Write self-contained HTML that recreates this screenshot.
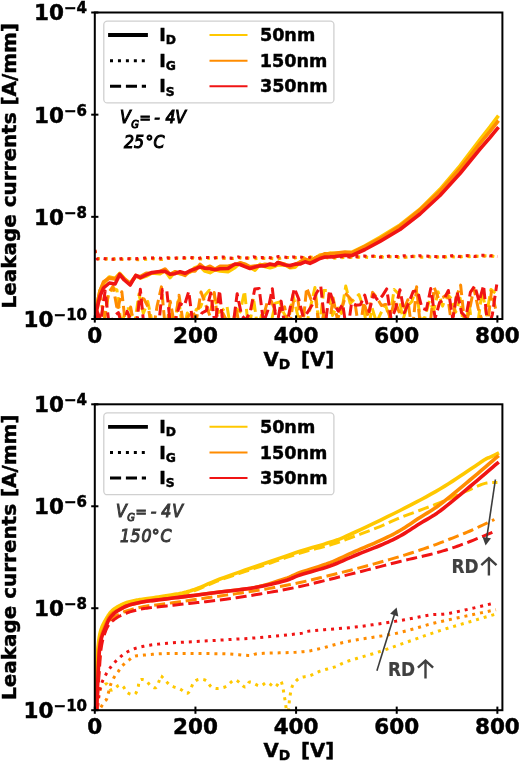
<!DOCTYPE html>
<html><head><meta charset="utf-8"><style>
*{margin:0;padding:0}
html,body{width:520px;height:761px;background:#fff;overflow:hidden}
svg{display:block}
text{font-family:'DejaVu Sans', 'Liberation Sans', sans-serif;font-weight:bold;fill:#000;stroke:#000;stroke-width:0.45px}
.tk{font-size:21.5px}
.sup{font-size:15.05px}
.lb{font-size:19.7px}
.yl{font-size:19.95px}
.sub{font-size:13.8px}
.lg{font-size:17.6px}
.lsub{font-size:12.3px}
.an{font-family:'DejaVu Sans Condensed', 'DejaVu Sans', sans-serif;font-style:italic;font-weight:normal;font-size:18px;stroke-width:1.0px}
.ansub{font-size:12px}
.rd{font-family:'DejaVu Sans Condensed', 'DejaVu Sans', sans-serif;font-size:18.8px;fill:#404040;stroke:#404040;stroke-width:0.2px}
</style></head><body>
<svg width="520" height="761" viewBox="0 0 520 761">
<defs><clipPath id="c0"><rect x="94.8" y="12.5" width="407.6" height="306.5"/></clipPath><clipPath id="c1"><rect x="94.8" y="404.3" width="407.6" height="305.9"/></clipPath></defs>
<path d="M94.95 330.42 L99.35 320.12 L103.75 322.05 L108.15 295.24 L112.55 288.09 L116.95 290 L121.35 325.92 L125.75 308.77 L130.15 308.78 L134.55 324.17 L138.95 294.12 L143.35 313.39 L147.75 301.5 L152.15 321.97 L156.55 322.54 L160.95 326.89 L165.35 332 L169.75 311.48 L174.15 328.3 L178.55 297.6 L182.95 332.2 L187.35 312.95 L191.75 332.57 L196.15 309.65 L200.55 306.97 L204.95 295.18 L209.35 290.19 L213.75 292.94 L218.15 312.59 L222.55 310.14 L226.95 305.97 L231.35 332.39 L235.75 308.17 L240.15 311.92 L244.55 291.04 L248.95 333 L253.35 297.43 L257.75 328.68 L262.15 312.92 L266.55 333.15 L270.95 323.47 L275.35 303.12 L279.75 301.87 L284.15 313.96 L288.55 320.17 L292.95 295.12 L297.35 313.71 L301.75 331.64 L306.15 326.18 L310.55 306.72 L314.95 287.42 L319.35 328.1 L323.75 290.52 L328.15 290.53 L332.55 315.41 L336.95 306.76 L341.35 313.5 L345.75 286.06 L350.15 303.36 L354.55 299.08 L358.95 294.52 L363.35 307.47 L367.75 331.21 L372.15 308.16 L376.55 322.6 L380.95 312.93 L385.35 304.56 L389.75 318.75 L394.15 289.46 L398.55 293.78 L402.95 319.76 L407.35 305.97 L411.75 301.72 L416.15 288.65 L420.55 321.05 L424.95 317.25 L429.35 300.88 L433.75 310.29 L438.15 291.87 L442.55 306.18 L446.95 293.97 L451.35 298.49 L455.75 312.12 L460.15 298.27 L464.55 335.24 L468.95 302.75 L473.35 335.42 L477.75 324.46 L482.15 290.13 L486.55 315.05 L490.95 289.5 L495.35 293.04" fill="none" stroke="#FFC800" stroke-width="3" stroke-linecap="butt" stroke-linejoin="round" stroke-dasharray="11.1 4.8" clip-path="url(#c0)"/>
<path d="M95.43 324.41 L99.83 291.13 L104.23 321.41 L108.63 292.61 L113.03 286.32 L117.43 310.41 L121.83 291.67 L126.23 331.44 L130.63 307.06 L135.03 331.36 L139.43 297.62 L143.83 298.83 L148.23 307.08 L152.63 334.47 L157.03 306.32 L161.43 286.87 L165.83 333.5 L170.23 301.24 L174.63 325.69 L179.03 295.34 L183.43 324.75 L187.83 316.9 L192.23 311.48 L196.63 318.58 L201.03 291.93 L205.43 304.22 L209.83 315.46 L214.23 292.56 L218.63 326.78 L223.03 313.35 L227.43 322.28 L231.83 330.73 L236.23 308.34 L240.63 333.17 L245.03 323.15 L249.43 314.25 L253.83 329.46 L258.23 327.36 L262.63 319.16 L267.03 303.15 L271.43 301.25 L275.83 312.59 L280.23 311.86 L284.63 306.92 L289.03 329.15 L293.43 301.2 L297.83 299.22 L302.23 332.08 L306.63 287.74 L311.03 299.5 L315.43 296.87 L319.83 333.44 L324.23 310.96 L328.63 330.09 L333.03 297.88 L337.43 319.38 L341.83 307.93 L346.23 294.01 L350.63 299.05 L355.03 302.96 L359.43 333.45 L363.83 302.17 L368.23 316.98 L372.63 292.36 L377.03 297.94 L381.43 305.53 L385.83 304.42 L390.23 318.31 L394.63 299.55 L399.03 311.91 L403.43 310.51 L407.83 299.76 L412.23 332.72 L416.63 286.8 L421.03 334.17 L425.43 325.43 L429.83 326.8 L434.23 287.56 L438.63 298.93 L443.03 297.29 L447.43 294.31 L451.83 326.23 L456.23 297.32 L460.63 285.14 L465.03 327.08 L469.43 310.65 L473.83 287.93 L478.23 308.34 L482.63 322.32 L487.03 330.91 L491.43 291.33 L495.83 309.72" fill="none" stroke="#FF8C00" stroke-width="3" stroke-linecap="butt" stroke-linejoin="round" stroke-dasharray="11.1 4.8" clip-path="url(#c0)"/>
<path d="M96.35 308.96 L100.75 320.42 L105.15 291.01 L109.55 328.36 L113.95 316.05 L118.35 312.55 L122.75 327.79 L127.15 311.35 L131.55 321.89 L135.95 332.45 L140.35 289.31 L144.75 334.84 L149.15 324.43 L153.55 333.4 L157.95 332.58 L162.35 289.58 L166.75 289.89 L171.15 332.62 L175.55 319.24 L179.95 303.65 L184.35 305.68 L188.75 291.35 L193.15 326.12 L197.55 325.66 L201.95 313.05 L206.35 310.62 L210.75 292.96 L215.15 325.32 L219.55 290.43 L223.95 334.36 L228.35 334.33 L232.75 328.32 L237.15 293.65 L241.55 315.18 L245.95 319.97 L250.35 311.35 L254.75 289.04 L259.15 288.5 L263.55 322.91 L267.95 309.96 L272.35 288.78 L276.75 326.69 L281.15 301.11 L285.55 331.83 L289.95 308.73 L294.35 288.23 L298.75 299.07 L303.15 316.93 L307.55 312.35 L311.95 305.3 L316.35 293.21 L320.75 286.15 L325.15 326.58 L329.55 290.36 L333.95 304.17 L338.35 311.29 L342.75 304.1 L347.15 335.09 L351.55 302.75 L355.95 305.18 L360.35 304.82 L364.75 295.05 L369.15 311.49 L373.55 294.56 L377.95 300.52 L382.35 295.86 L386.75 288.91 L391.15 319.8 L395.55 308.83 L399.95 289.67 L404.35 312.65 L408.75 302.94 L413.15 291.56 L417.55 290.66 L421.95 308.14 L426.35 309.83 L430.75 288.43 L435.15 318.28 L439.55 302.54 L443.95 299.48 L448.35 290.47 L452.75 318.81 L457.15 292.12 L461.55 312.61 L465.95 317 L470.35 292.45 L474.75 285.83 L479.15 301.46 L483.55 285.38 L487.95 328.81 L492.35 314.58 L496.75 284.49" fill="none" stroke="#F01414" stroke-width="3" stroke-linecap="butt" stroke-linejoin="round" stroke-dasharray="11.1 4.8" clip-path="url(#c0)"/>
<path d="M94.8 250.6 L97.3 258.79 L102.33 258.49 L107.36 259.16 L112.39 259.54 L117.42 259.02 L122.45 259.09 L127.48 258.29 L132.51 259.01 L137.54 259.7 L142.57 259.52 L147.6 259.29 L152.63 258.26 L157.66 259.48 L162.69 259.38 L167.72 258.23 L172.75 258.94 L177.78 257.93 L182.81 258.04 L187.84 258.32 L192.87 258.03 L197.9 258.96 L202.93 259.01 L207.96 258.22 L212.99 258.14 L218.02 257.77 L223.05 257.69 L228.08 258.66 L233.11 258.44 L238.14 257.53 L243.17 258.17 L248.2 258.01 L253.23 258.69 L258.26 258.44 L263.29 258.22 L268.32 258.1 L273.35 258.7 L278.38 258.72 L283.41 257.64 L288.44 257.45 L293.47 258.3 L298.5 257.09 L303.53 257.53 L308.56 257.03 L313.59 257.39 L318.62 256.95 L323.65 257.26 L328.68 258.03 L333.71 258.17 L338.74 257.96 L343.77 257.55 L348.8 257.6 L353.83 257.15 L358.86 256.81 L363.89 257.2 L368.92 257.63 L373.95 256.52 L378.98 256.42 L384.01 257.58 L389.04 256.79 L394.07 257.39 L399.1 257.41 L404.13 257.69 L409.16 256.8 L414.19 256.69 L419.22 257.37 L424.25 257.27 L429.28 257.05 L434.31 257.27 L439.34 256.96 L444.37 257.43 L449.4 256.39 L454.43 257 L459.46 257.3 L464.49 256.28 L469.52 256.68 L474.55 256.25 L479.58 256.37 L484.61 255.71 L489.64 255.59 L494.67 256.73 L497.4 256.22" fill="none" stroke="#FFC800" stroke-width="3" stroke-linecap="butt" stroke-linejoin="round" stroke-dasharray="3 4.95" clip-path="url(#c0)"/>
<path d="M94.8 250.3 L97.3 258.44 L102.33 259.34 L107.36 258.54 L112.39 258.94 L117.42 258.07 L122.45 259.48 L127.48 259.41 L132.51 257.99 L137.54 259.43 L142.57 258.08 L147.6 258.27 L152.63 258.75 L157.66 259.26 L162.69 259.07 L167.72 257.67 L172.75 258.47 L177.78 258.48 L182.81 258.33 L187.84 258.75 L192.87 257.74 L197.9 258.67 L202.93 257.44 L207.96 257.58 L212.99 257.52 L218.02 257.79 L223.05 258.33 L228.08 257.97 L233.11 258.49 L238.14 257.6 L243.17 258.28 L248.2 258.19 L253.23 257.55 L258.26 257.53 L263.29 258.52 L268.32 257.91 L273.35 258.4 L278.38 258.07 L283.41 258.12 L288.44 257.41 L293.47 257.45 L298.5 257.33 L303.53 258.24 L308.56 256.9 L313.59 258.12 L318.62 257.21 L323.65 257.18 L328.68 257.2 L333.71 257.02 L338.74 257.13 L343.77 256.41 L348.8 256.45 L353.83 257.45 L358.86 257.25 L363.89 256.24 L368.92 256.64 L373.95 256.48 L378.98 256.17 L384.01 256.88 L389.04 256.68 L394.07 256.05 L399.1 256.85 L404.13 257.18 L409.16 256.04 L414.19 256.26 L419.22 256.81 L424.25 256.53 L429.28 256.52 L434.31 256.41 L439.34 257.06 L444.37 256.56 L449.4 256.52 L454.43 256.23 L459.46 256.25 L464.49 256.87 L469.52 255.74 L474.55 256.88 L479.58 255.45 L484.61 256.25 L489.64 255.31 L494.67 256.28 L497.4 256.22" fill="none" stroke="#FF8C00" stroke-width="3" stroke-linecap="butt" stroke-linejoin="round" stroke-dasharray="3 4.95" clip-path="url(#c0)"/>
<path d="M94.8 250 L97.3 259.14 L102.33 258.24 L107.36 259.14 L112.39 259.33 L117.42 259.3 L122.45 258.43 L127.48 258.65 L132.51 258.87 L137.54 258.62 L142.57 258.71 L147.6 257.58 L152.63 257.96 L157.66 257.54 L162.69 258.78 L167.72 257.97 L172.75 258.42 L177.78 257.7 L182.81 257.81 L187.84 257.23 L192.87 257.75 L197.9 258.66 L202.93 257.45 L207.96 257.58 L212.99 258.5 L218.02 257.04 L223.05 257.06 L228.08 257.92 L233.11 258.28 L238.14 256.86 L243.17 258 L248.2 258.07 L253.23 256.85 L258.26 257.74 L263.29 257.47 L268.32 257.38 L273.35 258.11 L278.38 256.54 L283.41 256.9 L288.44 257.6 L293.47 256.95 L298.5 256.83 L303.53 257.46 L308.56 257.78 L313.59 256.67 L318.62 256.97 L323.65 256.6 L328.68 256.77 L333.71 257.09 L338.74 257.32 L343.77 256.16 L348.8 257.11 L353.83 256.85 L358.86 256.16 L363.89 256.06 L368.92 256.25 L373.95 256.07 L378.98 257.27 L384.01 256.84 L389.04 256.09 L394.07 256.58 L399.1 256.52 L404.13 255.71 L409.16 256.9 L414.19 256.17 L419.22 255.72 L424.25 255.75 L429.28 256.19 L434.31 256.51 L439.34 256.91 L444.37 256.69 L449.4 256.06 L454.43 255.39 L459.46 256.64 L464.49 255.73 L469.52 255.47 L474.55 256.46 L479.58 255.25 L484.61 255.37 L489.64 255.91 L494.67 255.82 L497.4 256.43" fill="none" stroke="#F01414" stroke-width="3" stroke-linecap="butt" stroke-linejoin="round" stroke-dasharray="3 4.95" clip-path="url(#c0)"/>
<path d="M95.2 327 L96.6 307 L100 290.83 L103.5 283.44 L109.3 277 L115.1 278.6 L119.7 273.38 L124.3 278.55 L130.1 284.12 L135.8 275.47 L140.4 278.08 L146.2 276.03 L152 273.02 L160 273.61 L165 270.46 L170 277.57 L175 271.86 L180 273.7 L185 273.78 L190 272.15 L195 267.7 L200 266.19 L205 271.11 L210 272.61 L215 269.64 L220 270.95 L228 271.76 L235 267.37 L240 263.01 L245 264.8 L250 267.52 L255 270.2 L260 264.3 L265 266.53 L270 267.74 L275 266.2 L278 264.65 L285 264.89 L290 267.64 L295 267.13 L300 262.11 L305 259.26 L310 261.29 L315 258.45 L320 255.1 L325 254.51 L330 253.16 L335 253.37 L345 252.73 L352 252.04 L365 245.91 L380 237.39 L400 224.92 L420 209.23 L440 189.3 L460 165.88 L480 139.55 L490 126.89 L497.4 117" fill="none" stroke="#FFC800" stroke-width="3.6" stroke-linecap="square" stroke-linejoin="round" clip-path="url(#c0)"/>
<path d="M95.2 327 L96.6 307 L100 290.87 L103.5 282.05 L109.3 278.1 L115.1 278.87 L119.7 274.02 L124.3 278.98 L130.1 283.23 L135.8 276.12 L140.4 276.5 L146.2 273.4 L152 273.23 L160 271.67 L165 269.04 L170 274.38 L175 271.81 L180 273.39 L185 275.4 L190 270.77 L195 270.94 L200 264.48 L205 268.33 L210 266.19 L215 269.33 L220 266.38 L228 266.26 L235 264.58 L240 262.86 L245 264.21 L250 266.82 L255 266.03 L260 265.52 L265 264.21 L270 264.83 L275 264.9 L278 262.53 L285 264.32 L290 267.29 L295 264.6 L300 261.97 L305 259.16 L310 261.25 L315 258 L320 256.2 L325 253.74 L330 253.96 L335 253.36 L345 252.06 L352 252.84 L365 246.42 L380 238.71 L400 226.09 L420 209.89 L440 191.17 L460 168.77 L480 143.33 L490 131.34 L497.4 122" fill="none" stroke="#FF8C00" stroke-width="3.6" stroke-linecap="square" stroke-linejoin="round" clip-path="url(#c0)"/>
<path d="M95.2 330 L96.6 310 L100 296 L103.5 288 L109.3 283 L115.1 284 L119.7 274.5 L124.3 280 L130.1 285 L135.8 275.4 L140.4 277.7 L146.2 274.8 L152 272.5 L160 271.5 L165 271.23 L170 274.3 L175 273.7 L180 271.68 L185 273.27 L190 270.8 L195 268.86 L200 267 L205 268.3 L210 268.8 L215 269.76 L220 268.8 L228 268.5 L235 264 L240 264.5 L245 266.57 L250 268.5 L255 266.94 L260 265.71 L265 266 L270 263.99 L275 265 L278 262.5 L285 265 L290 265.53 L295 264.12 L300 264 L305 261.77 L310 263.37 L315 261 L320 258.5 L325 257.02 L330 256.86 L335 256.5 L345 255.2 L352 255.5 L365 249.5 L380 241.4 L400 229.5 L420 214 L440 195.5 L460 173.5 L480 149 L490 137.5 L497.4 128.5" fill="none" stroke="#F01414" stroke-width="3.6" stroke-linecap="square" stroke-linejoin="round" clip-path="url(#c0)"/>
<path d="M96.5 714 L96.61 712.89 L96.76 711.39 L96.93 709.6 L97.12 707.62 L97.33 705.57 L97.55 703.55 L97.78 701.65 L98 700 L98.22 698.52 L98.44 697.08 L98.67 695.69 L98.91 694.38 L99.15 693.13 L99.42 691.98 L99.7 690.94 L100 690 L100.32 689.2 L100.66 688.53 L101.01 687.97 L101.38 687.5 L101.76 687.09 L102.16 686.72 L102.57 686.36 L103 686 L103.45 685.6 L103.93 685.17 L104.43 684.75 L104.94 684.38 L105.46 684.08 L105.98 683.89 L106.49 683.85 L107 684 L107.5 684.42 L108 685.12 L108.5 686.02 L109 687 L109.5 687.98 L110 688.88 L110.5 689.58 L111 690 L111.5 690.14 L111.98 690.09 L112.47 689.88 L112.96 689.57 L113.45 689.18 L113.95 688.76 L114.47 688.36 L115 688 L115.56 687.63 L116.15 687.19 L116.76 686.71 L117.38 686.22 L117.99 685.76 L118.59 685.36 L119.17 685.07 L119.7 684.9 L120.19 684.85 L120.64 684.88 L121.07 684.99 L121.47 685.17 L121.88 685.43 L122.3 685.75 L122.73 686.14 L123.2 686.6 L123.68 687.18 L124.16 687.92 L124.64 688.76 L125.13 689.65 L125.65 690.54 L126.22 691.38 L126.83 692.12 L127.5 692.7 L128.27 693.18 L129.14 693.62 L130.09 694 L131.06 694.31 L132.02 694.53 L132.94 694.63 L133.78 694.59 L134.5 694.4 L135.11 694.02 L135.64 693.47 L136.11 692.77 L136.53 691.96 L136.9 691.08 L137.25 690.15 L137.58 689.21 L137.9 688.3 L138.17 687.33 L138.36 686.22 L138.51 685.04 L138.64 683.85 L138.79 682.71 L138.99 681.68 L139.28 680.82 L139.7 680.2 L140.25 679.8 L140.92 679.56 L141.68 679.47 L142.49 679.5 L143.32 679.64 L144.16 679.86 L144.96 680.16 L145.7 680.5 L146.39 680.97 L147.06 681.6 L147.71 682.36 L148.35 683.17 L148.99 684 L149.62 684.78 L150.26 685.47 L150.9 686 L151.56 686.44 L152.24 686.87 L152.92 687.26 L153.61 687.58 L154.27 687.79 L154.92 687.87 L155.53 687.78 L156.1 687.5 L156.63 686.94 L157.14 686.11 L157.63 685.08 L158.09 683.92 L158.52 682.73 L158.91 681.58 L159.27 680.54 L159.6 679.7 L159.82 678.95 L159.92 678.19 L159.94 677.45 L159.96 676.8 L160.01 676.28 L160.16 675.94 L160.48 675.83 L161 676 L161.75 676.55 L162.69 677.47 L163.77 678.66 L164.96 680.02 L166.22 681.43 L167.5 682.8 L168.78 684.03 L170 685 L171.22 685.74 L172.48 686.35 L173.76 686.87 L175.06 687.31 L176.35 687.72 L177.62 688.12 L178.84 688.53 L180 689 L181.1 689.61 L182.16 690.38 L183.19 691.2 L184.19 692 L185.16 692.67 L186.12 693.12 L187.06 693.27 L188 693 L188.9 692.19 L189.75 690.87 L190.57 689.19 L191.38 687.31 L192.2 685.4 L193.06 683.6 L193.99 682.08 L195 681 L196.12 680.29 L197.34 679.77 L198.62 679.42 L199.94 679.25 L201.26 679.23 L202.57 679.36 L203.83 679.62 L205 680 L206.07 680.63 L207.05 681.58 L207.97 682.74 L208.88 684 L209.79 685.26 L210.77 686.42 L211.82 687.37 L213 688 L214.32 688.35 L215.77 688.52 L217.29 688.55 L218.88 688.44 L220.47 688.21 L222.05 687.88 L223.57 687.47 L225 687 L226.35 686.32 L227.64 685.34 L228.9 684.2 L230.12 683 L231.34 681.86 L232.55 680.91 L233.76 680.25 L235 680 L236.28 680.29 L237.62 681.05 L238.97 682.13 L240.31 683.38 L241.62 684.64 L242.85 685.77 L243.99 686.6 L245 687 L245.83 686.89 L246.48 686.38 L247.02 685.61 L247.5 684.69 L247.98 683.74 L248.52 682.9 L249.17 682.28 L250 682 L251.03 682.12 L252.22 682.54 L253.52 683.17 L254.88 683.91 L256.25 684.65 L257.59 685.32 L258.86 685.8 L260 686 L261.01 685.87 L261.94 685.46 L262.8 684.89 L263.62 684.22 L264.43 683.56 L265.25 682.99 L266.1 682.61 L267 682.5 L267.97 682.75 L268.98 683.3 L270.01 684.05 L271.06 684.88 L272.1 685.7 L273.12 686.4 L274.09 686.87 L275 687 L275.86 686.62 L276.69 685.74 L277.48 684.58 L278.25 683.32 L278.98 682.17 L279.69 681.34 L280.36 681.01 L281 681.4 L281.61 682.58 L282.18 684.41 L282.71 686.72 L283.22 689.35 L283.7 692.15 L284.15 694.97 L284.59 697.63 L285 700 L285.38 702.37 L285.73 705.03 L286.05 707.77 L286.34 710.41 L286.63 712.75 L286.91 714.59 L287.2 715.74 L287.5 716 L287.81 715.16 L288.11 713.33 L288.42 710.75 L288.72 707.7 L289.03 704.44 L289.34 701.23 L289.66 698.33 L290 696 L290.32 694.15 L290.62 692.48 L290.91 690.96 L291.22 689.58 L291.56 688.29 L291.96 687.08 L292.43 685.93 L293 684.8 L293.66 683.71 L294.4 682.69 L295.2 681.73 L296.06 680.84 L296.98 680.03 L297.95 679.28 L298.95 678.6 L300 678 L301.11 677.51 L302.29 677.16 L303.53 676.9 L304.81 676.71 L306.12 676.53 L307.43 676.32 L308.73 676.06 L310 675.7 L311.22 675.24 L312.38 674.73 L313.53 674.17 L314.69 673.58 L315.88 672.98 L317.15 672.37 L318.51 671.77 L320 671.2 L321.67 670.65 L323.52 670.1 L325.48 669.55 L327.5 669.01 L329.52 668.46 L331.48 667.91 L333.33 667.36 L335 666.8 L336.49 666.22 L337.85 665.63 L339.12 665.03 L340.31 664.43 L341.47 663.83 L342.62 663.26 L343.78 662.71 L345 662.2 L346.15 661.76 L347.15 661.4 L348.09 661.09 L349.06 660.78 L350.15 660.45 L351.45 660.07 L353.03 659.6 L355 659 L357.37 658.29 L360.08 657.5 L363.06 656.63 L366.25 655.71 L369.6 654.72 L373.05 653.69 L376.53 652.61 L380 651.5 L383.51 650.33 L387.15 649.08 L390.88 647.78 L394.69 646.43 L398.53 645.06 L402.38 643.69 L406.22 642.33 L410 641 L413.75 639.68 L417.5 638.36 L421.25 637.03 L425 635.7 L428.75 634.39 L432.5 633.09 L436.25 631.83 L440 630.6 L443.78 629.41 L447.59 628.24 L451.43 627.1 L455.25 625.98 L459.04 624.88 L462.78 623.81 L466.44 622.74 L470 621.7 L473.62 620.63 L477.39 619.51 L481.19 618.39 L484.88 617.29 L488.33 616.27 L491.42 615.36 L494.02 614.59 L496 614" fill="none" stroke="#FFC800" stroke-width="3" stroke-linecap="butt" stroke-linejoin="round" stroke-dasharray="3 4.95" clip-path="url(#c1)"/>
<path d="M96.5 714 L96.65 713.77 L96.86 713.46 L97.1 713.09 L97.38 712.69 L97.66 712.26 L97.95 711.82 L98.24 711.4 L98.5 711 L98.75 710.63 L99 710.25 L99.25 709.88 L99.51 709.51 L99.76 709.14 L100.01 708.76 L100.25 708.38 L100.5 708 L100.74 707.61 L100.98 707.22 L101.21 706.82 L101.44 706.42 L101.68 706.02 L101.91 705.61 L102.15 705.21 L102.4 704.8 L102.65 704.39 L102.91 703.96 L103.17 703.53 L103.43 703.11 L103.7 702.68 L103.96 702.27 L104.23 701.87 L104.5 701.5 L104.77 701.18 L105.05 700.91 L105.34 700.68 L105.62 700.44 L105.9 700.19 L106.18 699.88 L106.44 699.49 L106.7 699 L106.94 698.39 L107.17 697.7 L107.4 696.94 L107.61 696.12 L107.83 695.26 L108.05 694.38 L108.27 693.48 L108.5 692.6 L108.73 691.71 L108.95 690.78 L109.17 689.83 L109.39 688.87 L109.63 687.9 L109.89 686.92 L110.18 685.95 L110.5 685 L110.86 684.04 L111.26 683.07 L111.68 682.1 L112.12 681.12 L112.58 680.17 L113.05 679.24 L113.53 678.35 L114 677.5 L114.47 676.71 L114.96 675.98 L115.45 675.28 L115.95 674.61 L116.46 673.95 L116.97 673.29 L117.48 672.61 L118 671.9 L118.51 671.16 L119.01 670.39 L119.51 669.61 L120.02 668.82 L120.54 668.04 L121.09 667.27 L121.67 666.52 L122.3 665.8 L122.98 665.1 L123.72 664.41 L124.5 663.74 L125.29 663.07 L126.1 662.43 L126.9 661.8 L127.67 661.19 L128.4 660.6 L129.08 660.01 L129.72 659.42 L130.34 658.85 L130.95 658.29 L131.57 657.76 L132.2 657.28 L132.87 656.86 L133.6 656.5 L134.36 656.23 L135.14 656.03 L135.95 655.9 L136.78 655.81 L137.65 655.74 L138.55 655.68 L139.5 655.6 L140.5 655.5 L141.56 655.37 L142.68 655.24 L143.85 655.11 L145.06 654.98 L146.29 654.85 L147.53 654.73 L148.77 654.61 L150 654.5 L151.19 654.4 L152.35 654.29 L153.49 654.2 L154.66 654.11 L155.86 654.02 L157.14 653.94 L158.51 653.87 L160 653.8 L161.57 653.74 L163.16 653.69 L164.82 653.65 L166.56 653.61 L168.42 653.57 L170.43 653.54 L172.61 653.52 L175 653.5 L177.61 653.48 L180.43 653.47 L183.42 653.46 L186.56 653.45 L189.82 653.45 L193.16 653.46 L196.57 653.47 L200 653.5 L203.58 653.53 L207.38 653.57 L211.32 653.61 L215.31 653.66 L219.26 653.72 L223.09 653.79 L226.69 653.89 L230 654 L233.05 654.16 L235.94 654.39 L238.67 654.64 L241.25 654.91 L243.67 655.15 L245.94 655.35 L248.05 655.47 L250 655.5 L251.52 655.41 L252.5 655.23 L253.16 654.98 L253.75 654.69 L254.49 654.37 L255.62 654.05 L257.38 653.75 L260 653.5 L263.7 653.3 L268.36 653.13 L273.68 652.98 L279.38 652.84 L285.15 652.68 L290.7 652.5 L295.75 652.28 L300 652 L303.39 651.69 L306.17 651.38 L308.53 651.05 L310.62 650.68 L312.65 650.27 L314.77 649.79 L317.16 649.24 L320 648.6 L323.17 647.85 L326.45 646.99 L329.86 646.05 L333.44 645.05 L337.21 644.02 L341.21 642.98 L345.46 641.97 L350 641 L354.98 640.08 L360.43 639.18 L366.22 638.3 L372.19 637.41 L378.2 636.51 L384.1 635.59 L389.75 634.62 L395 633.6 L399.96 632.49 L404.8 631.28 L409.52 630.01 L414.06 628.73 L418.41 627.47 L422.54 626.27 L426.41 625.16 L430 624.2 L433.04 623.42 L435.45 622.81 L437.46 622.32 L439.31 621.88 L441.25 621.43 L443.52 620.92 L446.36 620.3 L450 619.5 L454.82 618.45 L460.75 617.18 L467.37 615.77 L474.25 614.31 L480.98 612.88 L487.12 611.58 L492.27 610.49 L496 609.7" fill="none" stroke="#FF8C00" stroke-width="3" stroke-linecap="butt" stroke-linejoin="round" stroke-dasharray="3 4.95" clip-path="url(#c1)"/>
<path d="M97 714 L97.09 713.06 L97.21 711.8 L97.36 710.29 L97.52 708.62 L97.69 706.88 L97.86 705.14 L98.04 703.49 L98.2 702 L98.35 700.64 L98.5 699.31 L98.65 698.02 L98.8 696.75 L98.96 695.52 L99.12 694.31 L99.3 693.14 L99.5 692 L99.71 690.89 L99.94 689.81 L100.18 688.77 L100.42 687.75 L100.68 686.77 L100.95 685.81 L101.22 684.89 L101.5 684 L101.78 683.16 L102.05 682.38 L102.33 681.65 L102.62 680.94 L102.93 680.24 L103.26 679.52 L103.61 678.78 L104 678 L104.43 677.16 L104.89 676.29 L105.39 675.38 L105.91 674.47 L106.43 673.56 L106.96 672.67 L107.49 671.81 L108 671 L108.5 670.23 L109 669.5 L109.5 668.78 L110 668.09 L110.5 667.42 L111 666.77 L111.5 666.13 L112 665.5 L112.49 664.9 L112.95 664.33 L113.41 663.78 L113.88 663.25 L114.35 662.72 L114.86 662.17 L115.4 661.6 L116 661 L116.65 660.35 L117.36 659.66 L118.1 658.94 L118.88 658.22 L119.66 657.5 L120.45 656.79 L121.24 656.12 L122 655.5 L122.74 654.92 L123.48 654.37 L124.21 653.85 L124.94 653.34 L125.68 652.86 L126.43 652.39 L127.2 651.94 L128 651.5 L128.81 651.07 L129.61 650.67 L130.42 650.28 L131.25 649.91 L132.11 649.54 L133.02 649.19 L133.97 648.84 L135 648.5 L136.11 648.16 L137.29 647.82 L138.53 647.48 L139.81 647.16 L141.12 646.84 L142.43 646.54 L143.73 646.26 L145 646 L146.22 645.76 L147.38 645.55 L148.53 645.36 L149.69 645.19 L150.88 645.02 L152.15 644.85 L153.51 644.68 L155 644.5 L156.53 644.31 L158.05 644.13 L159.6 643.95 L161.25 643.76 L163.06 643.58 L165.08 643.39 L167.37 643.2 L170 643 L173.03 642.8 L176.45 642.59 L180.15 642.38 L184.06 642.17 L188.09 641.95 L192.15 641.74 L196.15 641.52 L200 641.3 L203.75 641.08 L207.5 640.86 L211.25 640.64 L215 640.42 L218.75 640.19 L222.5 639.97 L226.25 639.74 L230 639.5 L233.68 639.27 L237.27 639.06 L240.81 638.85 L244.38 638.64 L248.02 638.41 L251.8 638.15 L255.77 637.85 L260 637.5 L264.73 637.09 L270 636.61 L275.59 636.08 L281.25 635.53 L286.76 634.98 L291.88 634.44 L296.37 633.94 L300 633.5 L302.45 633.13 L303.79 632.8 L304.41 632.51 L304.69 632.24 L305 631.97 L305.74 631.69 L307.28 631.37 L310 631 L313.95 630.6 L318.79 630.18 L324.31 629.75 L330.31 629.3 L336.59 628.81 L342.93 628.29 L349.14 627.72 L355 627.1 L360.73 626.41 L366.6 625.64 L372.53 624.81 L378.44 623.96 L384.22 623.09 L389.8 622.22 L395.09 621.39 L400 620.6 L404.54 619.83 L408.79 619.05 L412.79 618.27 L416.56 617.51 L420.14 616.78 L423.55 616.11 L426.83 615.51 L430 615 L432.81 614.65 L435.14 614.48 L437.18 614.41 L439.12 614.38 L441.18 614.31 L443.55 614.14 L446.42 613.79 L450 613.2 L454.65 612.27 L460.34 611.04 L466.68 609.61 L473.25 608.09 L479.67 606.58 L485.53 605.19 L490.44 604.03 L494 603.2" fill="none" stroke="#F01414" stroke-width="3" stroke-linecap="butt" stroke-linejoin="round" stroke-dasharray="3 4.95" clip-path="url(#c1)"/>
<path d="M95.5 714 L95.54 712.16 L95.6 709.71 L95.67 706.8 L95.74 703.56 L95.83 700.13 L95.91 696.63 L96.01 693.21 L96.1 690 L96.2 686.87 L96.3 683.63 L96.4 680.35 L96.51 677.06 L96.63 673.83 L96.75 670.71 L96.87 667.75 L97 665 L97.13 662.45 L97.27 660.05 L97.41 657.78 L97.56 655.62 L97.71 653.58 L97.87 651.64 L98.03 649.78 L98.2 648 L98.37 646.32 L98.53 644.78 L98.7 643.35 L98.87 642 L99.05 640.71 L99.25 639.47 L99.46 638.24 L99.7 637 L99.96 635.77 L100.22 634.57 L100.5 633.41 L100.8 632.28 L101.12 631.18 L101.45 630.1 L101.81 629.04 L102.2 628 L102.62 626.98 L103.07 626 L103.55 625.03 L104.05 624.09 L104.56 623.17 L105.08 622.27 L105.59 621.38 L106.1 620.5 L106.6 619.62 L107.1 618.75 L107.61 617.88 L108.11 617.03 L108.62 616.21 L109.14 615.43 L109.67 614.69 L110.2 614 L110.74 613.38 L111.27 612.81 L111.81 612.29 L112.36 611.81 L112.92 611.35 L113.5 610.91 L114.09 610.46 L114.7 610 L115.33 609.54 L115.98 609.08 L116.64 608.63 L117.31 608.19 L118.01 607.75 L118.72 607.33 L119.45 606.91 L120.2 606.5 L120.97 606.09 L121.75 605.69 L122.55 605.29 L123.38 604.91 L124.22 604.53 L125.08 604.17 L125.98 603.82 L126.9 603.5 L127.86 603.2 L128.85 602.92 L129.86 602.65 L130.91 602.41 L131.97 602.17 L133.04 601.94 L134.12 601.72 L135.2 601.5 L136.23 601.3 L137.21 601.11 L138.16 600.94 L139.14 600.78 L140.19 600.61 L141.35 600.43 L142.67 600.23 L144.2 600 L145.89 599.76 L147.67 599.52 L149.58 599.27 L151.62 599 L153.81 598.7 L156.18 598.36 L158.74 597.96 L161.5 597.5 L164.53 597 L167.84 596.49 L171.37 595.94 L175.06 595.34 L178.84 594.67 L182.67 593.9 L186.47 593.02 L190.2 592 L193.82 590.82 L197.37 589.49 L200.92 588.04 L204.49 586.5 L208.16 584.9 L211.97 583.26 L215.96 581.62 L220.2 580 L224.72 578.38 L229.5 576.73 L234.47 575.05 L239.57 573.34 L244.76 571.63 L249.97 569.91 L255.13 568.2 L260.2 566.5 L265.27 564.77 L270.44 563 L275.65 561.2 L280.84 559.41 L285.95 557.66 L290.92 555.99 L295.69 554.42 L300.2 553 L304.48 551.73 L308.6 550.59 L312.55 549.55 L316.35 548.59 L319.99 547.69 L323.48 546.8 L326.81 545.91 L330 545 L332.9 544.11 L335.45 543.28 L337.78 542.5 L339.99 541.71 L342.2 540.9 L344.53 540.04 L347.09 539.08 L350 538 L353.34 536.77 L357.03 535.4 L360.96 533.93 L365 532.41 L369.04 530.88 L372.97 529.37 L376.66 527.93 L380 526.6 L382.84 525.42 L385.23 524.37 L387.35 523.39 L389.38 522.44 L391.47 521.45 L393.83 520.39 L396.61 519.19 L400 517.8 L404.11 516.19 L408.83 514.4 L413.97 512.48 L419.38 510.47 L424.85 508.43 L430.23 506.4 L435.34 504.44 L440 502.6 L444.33 500.81 L448.55 499.01 L452.64 497.23 L456.56 495.48 L460.29 493.81 L463.79 492.23 L467.04 490.79 L470 489.5 L472.61 488.37 L474.87 487.36 L476.84 486.48 L478.6 485.69 L480.22 485.01 L481.78 484.4 L483.35 483.87 L485 483.4 L486.76 483.02 L488.57 482.77 L490.39 482.61 L492.14 482.52 L493.77 482.48 L495.23 482.46 L496.46 482.44 L497.4 482.4" fill="none" stroke="#FFC800" stroke-width="3" stroke-linecap="butt" stroke-linejoin="round" stroke-dasharray="11.1 4.8" clip-path="url(#c1)"/>
<path d="M96.6 714 L96.68 712.13 L96.79 709.64 L96.92 706.67 L97.06 703.38 L97.22 699.91 L97.38 696.42 L97.54 693.07 L97.7 690 L97.86 687.12 L98.03 684.24 L98.21 681.38 L98.39 678.56 L98.58 675.8 L98.76 673.1 L98.93 670.5 L99.1 668 L99.26 665.6 L99.4 663.28 L99.54 661.04 L99.68 658.88 L99.82 656.79 L99.97 654.78 L100.13 652.85 L100.3 651 L100.48 649.25 L100.65 647.62 L100.82 646.09 L101.01 644.62 L101.21 643.21 L101.44 641.81 L101.7 640.42 L102 639 L102.35 637.54 L102.76 636.06 L103.19 634.58 L103.66 633.12 L104.13 631.71 L104.6 630.38 L105.06 629.13 L105.5 628 L105.91 627 L106.3 626.09 L106.69 625.28 L107.08 624.54 L107.46 623.86 L107.86 623.22 L108.27 622.61 L108.7 622 L109.14 621.43 L109.59 620.91 L110.05 620.44 L110.51 619.99 L111 619.57 L111.5 619.16 L112.04 618.74 L112.6 618.3 L113.18 617.85 L113.77 617.42 L114.38 616.99 L115.01 616.56 L115.68 616.13 L116.4 615.69 L117.17 615.25 L118 614.8 L118.85 614.34 L119.7 613.89 L120.56 613.43 L121.49 612.96 L122.52 612.49 L123.67 612.01 L124.99 611.51 L126.5 611 L128.27 610.45 L130.28 609.87 L132.47 609.25 L134.78 608.64 L137.15 608.04 L139.52 607.47 L141.82 606.95 L144 606.5 L145.77 606.17 L147.07 605.98 L148.18 605.85 L149.34 605.75 L150.84 605.62 L152.94 605.4 L155.9 605.04 L160 604.5 L165.53 603.73 L172.38 602.77 L180.16 601.68 L188.5 600.5 L197.03 599.29 L205.38 598.1 L213.16 596.99 L220 596 L225.96 595.14 L231.41 594.36 L236.46 593.63 L241.25 592.94 L245.88 592.25 L250.47 591.55 L255.14 590.8 L260 590 L264.9 589.18 L269.65 588.37 L274.34 587.56 L279.06 586.72 L283.9 585.82 L288.95 584.83 L294.28 583.73 L300 582.5 L306.23 581.09 L312.93 579.52 L319.97 577.83 L327.19 576.06 L334.45 574.25 L341.6 572.45 L348.5 570.68 L355 569 L361.21 567.37 L367.3 565.74 L373.27 564.12 L379.06 562.52 L384.66 560.95 L390.04 559.42 L395.16 557.93 L400 556.5 L404.54 555.12 L408.79 553.79 L412.79 552.5 L416.56 551.24 L420.14 550.03 L423.55 548.85 L426.83 547.71 L430 546.6 L432.98 545.54 L435.7 544.55 L438.23 543.6 L440.62 542.68 L442.94 541.78 L445.23 540.87 L447.57 539.95 L450 539 L452.47 538.04 L454.9 537.11 L457.31 536.18 L459.72 535.24 L462.18 534.27 L464.69 533.26 L467.29 532.17 L470 531 L473.01 529.65 L476.36 528.1 L479.9 526.44 L483.45 524.75 L486.84 523.12 L489.91 521.65 L492.49 520.41 L494.4 519.5" fill="none" stroke="#FF8C00" stroke-width="3" stroke-linecap="butt" stroke-linejoin="round" stroke-dasharray="11.1 4.8" clip-path="url(#c1)"/>
<path d="M96.8 714 L96.89 712.13 L97.01 709.64 L97.15 706.67 L97.31 703.38 L97.48 699.91 L97.65 696.42 L97.83 693.07 L98 690 L98.18 687.11 L98.36 684.22 L98.55 681.34 L98.75 678.5 L98.95 675.72 L99.14 673.03 L99.32 670.45 L99.5 668 L99.66 665.68 L99.81 663.46 L99.95 661.34 L100.08 659.31 L100.22 657.37 L100.36 655.51 L100.52 653.72 L100.7 652 L100.89 650.38 L101.07 648.89 L101.26 647.5 L101.46 646.17 L101.68 644.88 L101.92 643.61 L102.19 642.33 L102.5 641 L102.85 639.61 L103.24 638.19 L103.67 636.75 L104.12 635.33 L104.58 633.94 L105.03 632.62 L105.48 631.4 L105.9 630.3 L106.3 629.33 L106.68 628.46 L107.05 627.68 L107.43 626.97 L107.8 626.31 L108.18 625.69 L108.58 625.1 L109 624.5 L109.43 623.93 L109.87 623.41 L110.31 622.92 L110.77 622.47 L111.24 622.03 L111.74 621.6 L112.25 621.16 L112.8 620.7 L113.36 620.23 L113.92 619.78 L114.49 619.32 L115.09 618.86 L115.73 618.41 L116.42 617.94 L117.17 617.48 L118 617 L118.92 616.5 L119.94 615.99 L121.02 615.46 L122.16 614.92 L123.31 614.4 L124.47 613.9 L125.61 613.43 L126.7 613 L127.75 612.61 L128.79 612.26 L129.81 611.93 L130.83 611.62 L131.85 611.33 L132.89 611.05 L133.93 610.77 L135 610.5 L136.03 610.24 L137.01 609.99 L137.96 609.75 L138.94 609.53 L139.99 609.3 L141.15 609.08 L142.47 608.84 L144 608.6 L145.48 608.38 L146.77 608.19 L148.06 608.02 L149.54 607.84 L151.42 607.62 L153.87 607.34 L157.1 606.97 L161.3 606.5 L166.78 605.89 L173.5 605.17 L181.1 604.36 L189.23 603.49 L197.54 602.59 L205.67 601.69 L213.27 600.82 L220 600 L225.89 599.24 L231.31 598.5 L236.37 597.78 L241.17 597.06 L245.82 596.34 L250.44 595.59 L255.13 594.82 L260 594 L264.9 593.18 L269.65 592.37 L274.34 591.56 L279.06 590.72 L283.9 589.82 L288.95 588.83 L294.28 587.73 L300 586.5 L306.23 585.09 L312.93 583.5 L319.97 581.79 L327.19 580 L334.45 578.18 L341.6 576.38 L348.5 574.63 L355 573 L361.21 571.44 L367.3 569.88 L373.27 568.34 L379.06 566.84 L384.66 565.4 L390.04 564.01 L395.16 562.71 L400 561.5 L404.54 560.4 L408.79 559.41 L412.79 558.49 L416.56 557.64 L420.14 556.84 L423.55 556.06 L426.83 555.29 L430 554.5 L432.98 553.73 L435.7 553 L438.23 552.3 L440.62 551.61 L442.94 550.92 L445.23 550.22 L447.57 549.48 L450 548.7 L452.47 547.89 L454.9 547.06 L457.31 546.22 L459.72 545.36 L462.18 544.46 L464.69 543.52 L467.29 542.54 L470 541.5 L473.01 540.32 L476.36 538.98 L479.9 537.55 L483.45 536.1 L486.84 534.71 L489.91 533.44 L492.49 532.38 L494.4 531.6" fill="none" stroke="#F01414" stroke-width="3" stroke-linecap="butt" stroke-linejoin="round" stroke-dasharray="11.1 4.8" clip-path="url(#c1)"/>
<path d="M95.3 714 L95.34 712.16 L95.4 709.71 L95.47 706.8 L95.54 703.56 L95.63 700.13 L95.71 696.63 L95.81 693.21 L95.9 690 L96 686.87 L96.1 683.63 L96.2 680.35 L96.31 677.06 L96.43 673.83 L96.55 670.71 L96.67 667.75 L96.8 665 L96.93 662.46 L97.07 660.07 L97.21 657.82 L97.36 655.69 L97.51 653.66 L97.67 651.71 L97.83 649.83 L98 648 L98.17 646.24 L98.33 644.58 L98.5 643 L98.67 641.5 L98.85 640.06 L99.05 638.67 L99.26 637.32 L99.5 636 L99.76 634.72 L100.02 633.5 L100.3 632.34 L100.6 631.22 L100.92 630.13 L101.25 629.07 L101.61 628.03 L102 627 L102.42 625.98 L102.87 625 L103.35 624.03 L103.85 623.09 L104.36 622.17 L104.88 621.27 L105.39 620.38 L105.9 619.5 L106.4 618.62 L106.9 617.75 L107.41 616.89 L107.91 616.04 L108.42 615.23 L108.94 614.44 L109.47 613.7 L110 613 L110.54 612.36 L111.07 611.77 L111.61 611.22 L112.16 610.7 L112.72 610.21 L113.3 609.73 L113.89 609.27 L114.5 608.8 L115.13 608.34 L115.78 607.9 L116.44 607.48 L117.11 607.07 L117.81 606.68 L118.52 606.28 L119.25 605.89 L120 605.5 L120.77 605.1 L121.55 604.71 L122.35 604.31 L123.18 603.92 L124.02 603.54 L124.88 603.17 L125.78 602.83 L126.7 602.5 L127.66 602.2 L128.65 601.92 L129.66 601.65 L130.71 601.41 L131.77 601.17 L132.84 600.94 L133.92 600.72 L135 600.5 L136.03 600.3 L137.01 600.11 L137.96 599.94 L138.94 599.78 L139.99 599.61 L141.15 599.43 L142.47 599.23 L144 599 L145.69 598.76 L147.47 598.52 L149.38 598.27 L151.42 598 L153.61 597.7 L155.98 597.36 L158.54 596.96 L161.3 596.5 L164.33 596 L167.64 595.49 L171.17 594.94 L174.86 594.34 L178.64 593.67 L182.47 592.9 L186.27 592.02 L190 591 L193.62 589.82 L197.17 588.5 L200.72 587.06 L204.29 585.53 L207.96 583.93 L211.77 582.29 L215.76 580.64 L220 579 L224.52 577.34 L229.3 575.63 L234.27 573.88 L239.38 572.11 L244.56 570.32 L249.77 568.53 L254.93 566.75 L260 565 L265.07 563.24 L270.23 561.44 L275.44 559.63 L280.62 557.84 L285.73 556.08 L290.7 554.39 L295.48 552.79 L300 551.3 L304.3 549.94 L308.44 548.69 L312.42 547.53 L316.25 546.43 L319.92 545.38 L323.44 544.36 L326.8 543.34 L330 542.3 L332.77 541.38 L335 540.65 L336.91 540 L338.75 539.34 L340.74 538.56 L343.12 537.56 L346.13 536.24 L350 534.5 L354.88 532.26 L360.62 529.58 L366.99 526.58 L373.75 523.36 L380.66 520.03 L387.5 516.7 L394.02 513.49 L400 510.5 L405.55 507.68 L410.94 504.9 L416.17 502.17 L421.25 499.47 L426.17 496.81 L430.94 494.18 L435.55 491.57 L440 489 L444.33 486.4 L448.55 483.76 L452.64 481.12 L456.56 478.53 L460.29 476.03 L463.79 473.66 L467.04 471.47 L470 469.5 L472.66 467.74 L475.04 466.15 L477.16 464.72 L479.06 463.43 L480.77 462.27 L482.3 461.24 L483.71 460.32 L485 459.5 L486.09 458.85 L486.9 458.41 L487.5 458.13 L487.97 457.95 L488.39 457.82 L488.82 457.69 L489.33 457.5 L490 457.2 L490.86 456.79 L491.85 456.31 L492.92 455.79 L494.01 455.26 L495.06 454.74 L496.01 454.28 L496.81 453.89 L497.4 453.6" fill="none" stroke="#FFC800" stroke-width="3.6" stroke-linecap="square" stroke-linejoin="round" clip-path="url(#c1)"/>
<path d="M96.3 712.5 L96.36 710.63 L96.44 708.14 L96.53 705.17 L96.64 701.88 L96.75 698.41 L96.87 694.92 L96.98 691.57 L97.1 688.5 L97.21 685.63 L97.33 682.77 L97.46 679.93 L97.58 677.12 L97.71 674.37 L97.84 671.67 L97.97 669.04 L98.1 666.5 L98.23 664.02 L98.35 661.58 L98.47 659.19 L98.59 656.88 L98.72 654.63 L98.86 652.48 L99.02 650.44 L99.2 648.5 L99.39 646.71 L99.58 645.07 L99.78 643.54 L99.99 642.09 L100.23 640.7 L100.51 639.32 L100.83 637.94 L101.2 636.5 L101.64 635.01 L102.16 633.48 L102.73 631.95 L103.33 630.44 L103.94 628.96 L104.54 627.55 L105.1 626.22 L105.6 625 L106.04 623.89 L106.45 622.88 L106.83 621.95 L107.19 621.08 L107.54 620.27 L107.91 619.49 L108.29 618.74 L108.7 618 L109.13 617.28 L109.56 616.6 L110 615.95 L110.45 615.33 L110.92 614.75 L111.41 614.2 L111.94 613.68 L112.5 613.2 L113.08 612.77 L113.68 612.42 L114.3 612.11 L114.94 611.83 L115.63 611.55 L116.36 611.25 L117.15 610.91 L118 610.5 L118.94 610.01 L119.95 609.45 L121.03 608.86 L122.16 608.24 L123.3 607.62 L124.46 607.03 L125.6 606.48 L126.7 606 L127.77 605.59 L128.83 605.22 L129.88 604.89 L130.94 604.59 L132 604.31 L133.08 604.04 L134.17 603.77 L135.3 603.5 L136.41 603.23 L137.49 602.96 L138.57 602.71 L139.67 602.47 L140.83 602.23 L142.09 601.99 L143.46 601.75 L145 601.5 L146.64 601.26 L148.32 601.04 L150.08 600.82 L151.96 600.6 L153.99 600.37 L156.2 600.11 L158.62 599.83 L161.3 599.5 L164.29 599.13 L167.57 598.72 L171.1 598.28 L174.79 597.82 L178.6 597.34 L182.44 596.86 L186.27 596.38 L190 595.9 L193.65 595.43 L197.29 594.96 L200.94 594.49 L204.61 594.01 L208.33 593.52 L212.12 593.02 L216 592.52 L220 592 L224.17 591.5 L228.52 591.02 L232.98 590.55 L237.5 590.06 L242.02 589.53 L246.48 588.94 L250.83 588.27 L255 587.5 L259.09 586.59 L263.2 585.54 L267.28 584.4 L271.25 583.2 L275.07 581.99 L278.67 580.81 L282 579.7 L285 578.7 L287.49 577.83 L289.45 577.06 L291.06 576.36 L292.5 575.69 L293.94 575.01 L295.55 574.29 L297.51 573.48 L300 572.55 L303.07 571.5 L306.56 570.37 L310.37 569.17 L314.38 567.92 L318.46 566.63 L322.5 565.31 L326.39 563.98 L330 562.65 L333.36 561.3 L336.6 559.92 L339.74 558.51 L342.81 557.08 L345.84 555.64 L348.87 554.21 L351.91 552.79 L355 551.4 L358.16 550.03 L361.37 548.66 L364.59 547.3 L367.81 545.95 L370.99 544.61 L374.1 543.28 L377.11 541.96 L380 540.65 L382.74 539.38 L385.35 538.15 L387.87 536.95 L390.31 535.75 L392.72 534.53 L395.12 533.27 L397.53 531.95 L400 530.55 L402.5 529.06 L405 527.48 L407.5 525.85 L410 524.18 L412.5 522.48 L415 520.78 L417.5 519.1 L420 517.45 L422.43 515.9 L424.77 514.47 L427.06 513.09 L429.38 511.69 L431.77 510.2 L434.3 508.55 L437.02 506.67 L440 504.5 L443.29 501.98 L446.86 499.16 L450.63 496.11 L454.54 492.9 L458.5 489.61 L462.45 486.31 L466.31 483.08 L470 480 L473.74 476.87 L477.68 473.54 L481.67 470.15 L485.57 466.82 L489.25 463.68 L492.54 460.86 L495.3 458.49 L497.4 456.7" fill="none" stroke="#FF8C00" stroke-width="3.6" stroke-linecap="square" stroke-linejoin="round" clip-path="url(#c1)"/>
<path d="M96.6 714 L96.66 712.13 L96.74 709.64 L96.83 706.67 L96.94 703.38 L97.05 699.91 L97.17 696.42 L97.28 693.07 L97.4 690 L97.51 687.13 L97.63 684.27 L97.76 681.43 L97.88 678.62 L98.01 675.87 L98.14 673.17 L98.27 670.54 L98.4 668 L98.53 665.52 L98.65 663.08 L98.77 660.69 L98.89 658.38 L99.02 656.13 L99.16 653.98 L99.32 651.94 L99.5 650 L99.69 648.21 L99.88 646.57 L100.08 645.04 L100.29 643.59 L100.53 642.2 L100.81 640.82 L101.13 639.44 L101.5 638 L101.94 636.51 L102.46 634.98 L103.03 633.45 L103.63 631.94 L104.24 630.46 L104.84 629.05 L105.4 627.72 L105.9 626.5 L106.34 625.39 L106.75 624.38 L107.13 623.45 L107.49 622.58 L107.84 621.77 L108.21 620.99 L108.59 620.24 L109 619.5 L109.43 618.79 L109.87 618.13 L110.31 617.51 L110.77 616.92 L111.24 616.36 L111.74 615.81 L112.25 615.26 L112.8 614.7 L113.36 614.15 L113.92 613.61 L114.49 613.09 L115.09 612.58 L115.73 612.07 L116.42 611.56 L117.17 611.04 L118 610.5 L118.92 609.94 L119.93 609.35 L121.01 608.75 L122.14 608.14 L123.29 607.55 L124.45 606.99 L125.59 606.47 L126.7 606 L127.77 605.59 L128.83 605.22 L129.88 604.89 L130.94 604.59 L132 604.31 L133.08 604.04 L134.17 603.77 L135.3 603.5 L136.41 603.23 L137.49 602.96 L138.57 602.71 L139.67 602.47 L140.83 602.23 L142.09 601.99 L143.46 601.75 L145 601.5 L146.64 601.26 L148.32 601.04 L150.08 600.82 L151.96 600.6 L153.99 600.37 L156.2 600.11 L158.62 599.83 L161.3 599.5 L164.29 599.13 L167.57 598.72 L171.1 598.28 L174.79 597.82 L178.6 597.34 L182.44 596.86 L186.27 596.38 L190 595.9 L193.65 595.43 L197.29 594.96 L200.94 594.49 L204.61 594.01 L208.33 593.52 L212.12 593.02 L216 592.52 L220 592 L224.17 591.48 L228.52 590.97 L232.98 590.46 L237.5 589.93 L242.02 589.38 L246.48 588.8 L250.83 588.18 L255 587.5 L259.09 586.75 L263.2 585.94 L267.28 585.07 L271.25 584.17 L275.07 583.27 L278.67 582.38 L282 581.51 L285 580.7 L287.49 579.96 L289.45 579.28 L291.06 578.63 L292.5 577.99 L293.94 577.33 L295.55 576.63 L297.51 575.86 L300 575 L303.07 574.04 L306.56 573.02 L310.37 571.93 L314.38 570.8 L318.46 569.63 L322.5 568.43 L326.39 567.22 L330 566 L333.36 564.76 L336.6 563.47 L339.74 562.15 L342.81 560.81 L345.84 559.47 L348.87 558.12 L351.91 556.8 L355 555.5 L358.16 554.22 L361.37 552.95 L364.59 551.69 L367.81 550.44 L370.99 549.19 L374.1 547.95 L377.11 546.72 L380 545.5 L382.74 544.31 L385.35 543.16 L387.87 542.03 L390.31 540.91 L392.72 539.76 L395.12 538.57 L397.53 537.33 L400 536 L402.5 534.58 L405 533.09 L407.5 531.53 L410 529.94 L412.5 528.32 L415 526.7 L417.5 525.08 L420 523.5 L422.43 522.02 L424.77 520.66 L427.06 519.34 L429.38 518 L431.77 516.57 L434.3 514.97 L437.02 513.14 L440 511 L443.29 508.5 L446.86 505.69 L450.63 502.64 L454.54 499.43 L458.5 496.13 L462.45 492.82 L466.31 489.59 L470 486.5 L473.74 483.37 L477.68 480.04 L481.67 476.65 L485.57 473.32 L489.25 470.18 L492.54 467.36 L495.3 464.99 L497.4 463.2" fill="none" stroke="#F01414" stroke-width="3.6" stroke-linecap="square" stroke-linejoin="round" clip-path="url(#c1)"/>
<line x1="91.2" y1="12.5" x2="98.4" y2="12.5" stroke="#000" stroke-width="2"/>
<line x1="91.2" y1="114.67" x2="98.4" y2="114.67" stroke="#000" stroke-width="2"/>
<line x1="91.2" y1="216.83" x2="98.4" y2="216.83" stroke="#000" stroke-width="2"/>
<line x1="91.2" y1="319" x2="98.4" y2="319" stroke="#000" stroke-width="2"/>
<line x1="94.8" y1="315.4" x2="94.8" y2="322.6" stroke="#000" stroke-width="2"/>
<line x1="195.44" y1="315.4" x2="195.44" y2="322.6" stroke="#000" stroke-width="2"/>
<line x1="296.08" y1="315.4" x2="296.08" y2="322.6" stroke="#000" stroke-width="2"/>
<line x1="396.73" y1="315.4" x2="396.73" y2="322.6" stroke="#000" stroke-width="2"/>
<line x1="497.37" y1="315.4" x2="497.37" y2="322.6" stroke="#000" stroke-width="2"/>
<rect x="94.8" y="12.5" width="407.6" height="306.5" fill="none" stroke="#000" stroke-width="2"/>
<text x="94.8" y="342.6" text-anchor="middle" class="tk">0</text>
<text x="195.44" y="342.6" text-anchor="middle" class="tk">200</text>
<text x="296.08" y="342.6" text-anchor="middle" class="tk">400</text>
<text x="396.73" y="342.6" text-anchor="middle" class="tk">600</text>
<text x="497.37" y="342.6" text-anchor="middle" class="tk">800</text>
<text x="87.1" y="20.4" text-anchor="end" class="tk">10<tspan class="sup" dy="-7.0">−4</tspan></text>
<text x="87.1" y="122.57" text-anchor="end" class="tk">10<tspan class="sup" dy="-7.0">−6</tspan></text>
<text x="87.1" y="224.73" text-anchor="end" class="tk">10<tspan class="sup" dy="-7.0">−8</tspan></text>
<text x="87.1" y="326.9" text-anchor="end" class="tk">10<tspan class="sup" dy="-7.0">−10</tspan></text>
<text x="263.6" y="365.6" class="lb">V<tspan class="sub" dy="3.3">D</tspan><tspan dy="-3.3" x="301.0">[V]</tspan></text>
<text transform="translate(16.3 165.75) rotate(-90)" text-anchor="middle" class="lb yl">Leakage currents [A/mm]</text>
<line x1="91.2" y1="404.3" x2="98.4" y2="404.3" stroke="#000" stroke-width="2"/>
<line x1="91.2" y1="506.27" x2="98.4" y2="506.27" stroke="#000" stroke-width="2"/>
<line x1="91.2" y1="608.23" x2="98.4" y2="608.23" stroke="#000" stroke-width="2"/>
<line x1="91.2" y1="710.2" x2="98.4" y2="710.2" stroke="#000" stroke-width="2"/>
<line x1="94.8" y1="706.6" x2="94.8" y2="713.8" stroke="#000" stroke-width="2"/>
<line x1="195.44" y1="706.6" x2="195.44" y2="713.8" stroke="#000" stroke-width="2"/>
<line x1="296.08" y1="706.6" x2="296.08" y2="713.8" stroke="#000" stroke-width="2"/>
<line x1="396.73" y1="706.6" x2="396.73" y2="713.8" stroke="#000" stroke-width="2"/>
<line x1="497.37" y1="706.6" x2="497.37" y2="713.8" stroke="#000" stroke-width="2"/>
<rect x="94.8" y="404.3" width="407.6" height="305.9" fill="none" stroke="#000" stroke-width="2"/>
<text x="94.8" y="733.8" text-anchor="middle" class="tk">0</text>
<text x="195.44" y="733.8" text-anchor="middle" class="tk">200</text>
<text x="296.08" y="733.8" text-anchor="middle" class="tk">400</text>
<text x="396.73" y="733.8" text-anchor="middle" class="tk">600</text>
<text x="497.37" y="733.8" text-anchor="middle" class="tk">800</text>
<text x="87.1" y="412.2" text-anchor="end" class="tk">10<tspan class="sup" dy="-7.0">−4</tspan></text>
<text x="87.1" y="514.17" text-anchor="end" class="tk">10<tspan class="sup" dy="-7.0">−6</tspan></text>
<text x="87.1" y="616.13" text-anchor="end" class="tk">10<tspan class="sup" dy="-7.0">−8</tspan></text>
<text x="87.1" y="718.1" text-anchor="end" class="tk">10<tspan class="sup" dy="-7.0">−10</tspan></text>
<text x="263.6" y="756.8" class="lb">V<tspan class="sub" dy="3.3">D</tspan><tspan dy="-3.3" x="301.0">[V]</tspan></text>
<text transform="translate(16.3 557.25) rotate(-90)" text-anchor="middle" class="lb yl">Leakage currents [A/mm]</text>
<rect x="103.8" y="21.1" width="230.1" height="81.8" rx="3.5" fill="#fff" fill-opacity="0.85" stroke="#d0d0d0" stroke-width="1.3"/>
<path d="M110 35 L146 35" fill="none" stroke="#000" stroke-width="3.8" stroke-linecap="square" stroke-linejoin="round"/>
<text x="159.2" y="41" class="lg">I<tspan class="lsub" dy="3.2">D</tspan></text>
<path d="M110 60.8 L146 60.8" fill="none" stroke="#000" stroke-width="3" stroke-linecap="butt" stroke-linejoin="round" stroke-dasharray="3 4.95"/>
<text x="159.2" y="66.8" class="lg">I<tspan class="lsub" dy="3.2">G</tspan></text>
<path d="M110 86.3 L146 86.3" fill="none" stroke="#000" stroke-width="3" stroke-linecap="butt" stroke-linejoin="round" stroke-dasharray="11.1 4.8"/>
<text x="159.2" y="92.3" class="lg">I<tspan class="lsub" dy="3.2">S</tspan></text>
<path d="M210.5 35 L246.5 35" fill="none" stroke="#FFC800" stroke-width="2" stroke-linecap="square" stroke-linejoin="round"/>
<text x="259.9" y="41.1" class="lg">50nm</text>
<path d="M210.5 60.8 L246.5 60.8" fill="none" stroke="#FF8C00" stroke-width="2" stroke-linecap="square" stroke-linejoin="round"/>
<text x="259.8" y="66.9" class="lg">150nm</text>
<path d="M210.5 86.3 L246.5 86.3" fill="none" stroke="#F01414" stroke-width="2" stroke-linecap="square" stroke-linejoin="round"/>
<text x="259.9" y="92.4" class="lg">350nm</text>
<rect x="103.8" y="412.9" width="230.1" height="81.8" rx="3.5" fill="#fff" fill-opacity="0.85" stroke="#d0d0d0" stroke-width="1.3"/>
<path d="M110 426.8 L146 426.8" fill="none" stroke="#000" stroke-width="3.8" stroke-linecap="square" stroke-linejoin="round"/>
<text x="159.2" y="432.8" class="lg">I<tspan class="lsub" dy="3.2">D</tspan></text>
<path d="M110 452.6 L146 452.6" fill="none" stroke="#000" stroke-width="3" stroke-linecap="butt" stroke-linejoin="round" stroke-dasharray="3 4.95"/>
<text x="159.2" y="458.6" class="lg">I<tspan class="lsub" dy="3.2">G</tspan></text>
<path d="M110 478.1 L146 478.1" fill="none" stroke="#000" stroke-width="3" stroke-linecap="butt" stroke-linejoin="round" stroke-dasharray="11.1 4.8"/>
<text x="159.2" y="484.1" class="lg">I<tspan class="lsub" dy="3.2">S</tspan></text>
<path d="M210.5 426.8 L246.5 426.8" fill="none" stroke="#FFC800" stroke-width="2" stroke-linecap="square" stroke-linejoin="round"/>
<text x="259.9" y="432.9" class="lg">50nm</text>
<path d="M210.5 452.6 L246.5 452.6" fill="none" stroke="#FF8C00" stroke-width="2" stroke-linecap="square" stroke-linejoin="round"/>
<text x="259.8" y="458.7" class="lg">150nm</text>
<path d="M210.5 478.1 L246.5 478.1" fill="none" stroke="#F01414" stroke-width="2" stroke-linecap="square" stroke-linejoin="round"/>
<text x="259.9" y="484.2" class="lg">350nm</text>
<text class="an" style="fill:#000;stroke:#000"><tspan x="120.01" y="123.2" style="font-size:17.5px">V</tspan><tspan x="131.14" y="127.8" style="font-size:11px">G</tspan><tspan x="139.38" y="123.2" style="font-size:15px">=</tspan><tspan x="154.2" y="123.2" style="font-size:17.5px">-</tspan><tspan x="165.4" y="123.2" style="font-size:17.5px">4</tspan><tspan x="175.31" y="123.2" style="font-size:17.5px">V</tspan></text>
<text class="an" style="fill:#000;stroke:#000"><tspan x="124.08" y="147.8" style="font-size:17.5px">2</tspan><tspan x="134.09" y="147.8" style="font-size:17.5px">5</tspan><tspan x="145.44" y="147.8" style="font-size:17.5px">°</tspan><tspan x="153.62" y="147.8" style="font-size:17.5px">C</tspan></text>
<text class="an" style="fill:#3a3a3a;stroke:#3a3a3a"><tspan x="116.11" y="516.6" style="font-size:17.5px">V</tspan><tspan x="127.34" y="521.2" style="font-size:11px">G</tspan><tspan x="135.47" y="516.6" style="font-size:15px">=</tspan><tspan x="150.7" y="516.6" style="font-size:17.5px">-</tspan><tspan x="161.2" y="516.6" style="font-size:17.5px">4</tspan><tspan x="172.31" y="516.6" style="font-size:17.5px">V</tspan></text>
<text class="an" style="fill:#3a3a3a;stroke:#3a3a3a"><tspan x="120.12" y="542.3" style="font-size:17.5px">1</tspan><tspan x="130.39" y="542.3" style="font-size:17.5px">5</tspan><tspan x="141.52" y="542.3" style="font-size:17.5px">0</tspan><tspan x="151.73" y="542.3" style="font-size:17.5px">°</tspan><tspan x="160.52" y="542.3" style="font-size:17.5px">C</tspan></text>
<line x1="495.4" y1="479.5" x2="486.63" y2="538.58" stroke="#3c3c3c" stroke-width="1.6"/>
<path d="M485.6 545.5 L482.52 536.96 L491.03 538.22 Z" fill="#3c3c3c"/>
<line x1="376.9" y1="670.8" x2="394.52" y2="614.18" stroke="#3c3c3c" stroke-width="1.6"/>
<path d="M396.6 607.5 L398.33 616.42 L390.12 613.86 Z" fill="#3c3c3c"/>
<text x="451.6" y="572.6" class="rd">RD</text>
<text x="387.9" y="675.6" class="rd">RD</text>
<path d="M488.9 575.6 L488.9 558.7 M481.3 565.1 L488.9 558.1 L496.5 565.1" fill="none" stroke="#404040" stroke-width="2.4" stroke-linejoin="miter"/>
<path d="M425.5 678.5 L425.5 661.2 M417.9 667.6 L425.5 660.6 L433.1 667.6" fill="none" stroke="#404040" stroke-width="2.4" stroke-linejoin="miter"/>
</svg>
</body></html>
